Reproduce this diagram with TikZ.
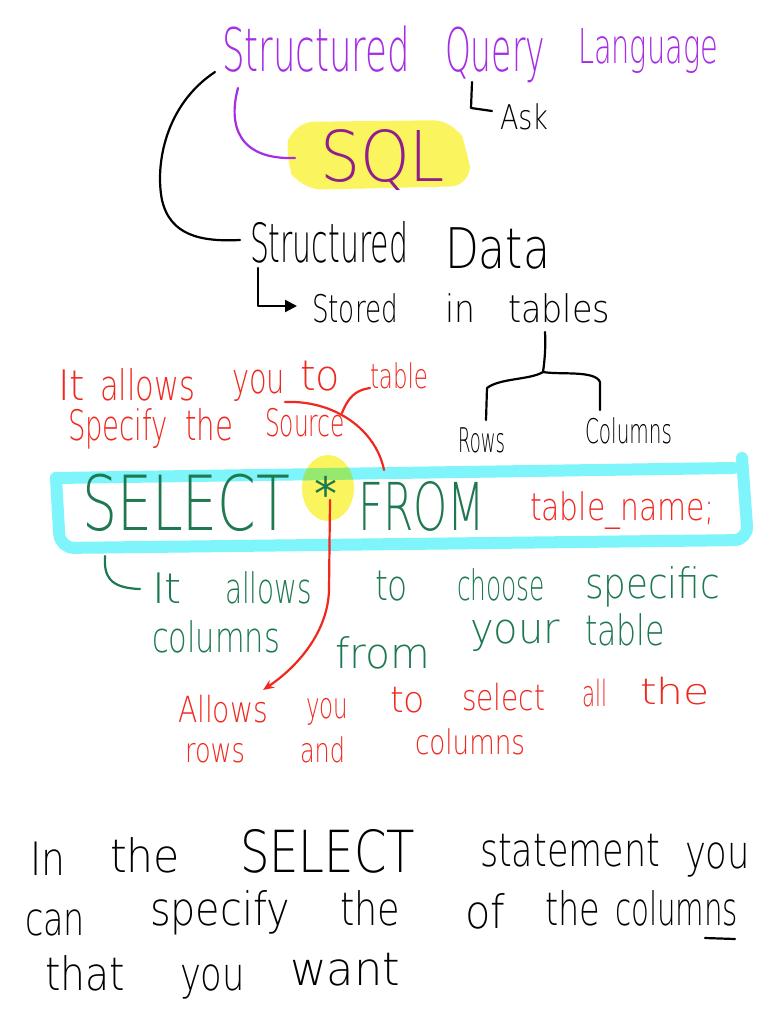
\documentclass[tikz,border=0pt]{standalone}
\usepackage{fontspec}
\usepackage{graphicx}
\setmainfont{DejaVu Sans ExtraLight}
\newfontfamily\regfont{DejaVu Sans}
\usetikzlibrary{arrows.meta}
\definecolor{purp}{RGB}{165,45,230}
\definecolor{sqlc}{RGB}{145,30,140}
\definecolor{yel}{RGB}{250,245,95}
\definecolor{cyanc}{RGB}{125,245,250}
\definecolor{lime}{RGB}{150,232,110}
\definecolor{grn}{RGB}{30,120,80}
\definecolor{redc}{RGB}{240,40,30}
\newcommand\hw[2]{\resizebox{#1pt}{\height}{#2}}
\newcommand\fs[1]{\fontsize{#1}{#1}\selectfont}
\begin{document}
\begin{tikzpicture}[x=1pt,y=-1pt,
  word/.style={anchor=base west,inner sep=0pt,outer sep=0pt},
  pen/.style={line width=2.2pt,line cap=round,line join=round},
  hl/.style={line width=12pt,line cap=round,line join=round}]
\useasboundingbox (0,0) rectangle (768,1024);
\fill[white] (0,0) rectangle (768,1024);

% highlights
\fill[yel,rounded corners=22pt] (292,122) -- (455,120) -- (468,150) -- (472,186) -- (300,190) -- (284,160) -- cycle;
\fill[yel] (328,488) ellipse [x radius=26, y radius=33];

% cyan box
\draw[cyanc,hl] (56,478) -- (733,468);
\draw[cyanc,hl,rounded corners=14pt] (742,458) -- (748,540) -- (60,548) -- (56,478);
\begin{scope}
\clip (328,488) ellipse [x radius=26, y radius=33];
\draw[lime,hl] (56,478) -- (733,468);
\end{scope}

% purple title
\node[word,text=purp,font=\fs{60}] (sq1) at (222,72) {\hw{188}{Structured}};
\node[word,text=purp,font=\fs{60}] (sq2) at (445,72) {\hw{100}{Query}};
\node[word,text=purp,font=\fs{48}] (sq3) at (578,64) {\hw{140}{Language}};
\node[word,text=sqlc,font=\fs{70}] (sql) at (320,182) {\hw{125}{SQL}};
\node[word,font=\fs{34}] (ask) at (500,130) {\hw{48}{Ask}};

% structured data
\node[word,font=\fs{54}] (sd1) at (250,262) {\hw{158}{Structured}};
\node[word,font=\fs{56}] (sd2) at (445,268) {\hw{105}{Data}};
\node[word,font=\fs{38}] (st1) at (312,322) {\hw{86}{Stored}};
\node[word,font=\fs{38}] (st2) at (445,322) {\hw{30}{in}};
\node[word,font=\fs{38}] (st3) at (508,322) {\hw{102}{tables}};
\node[word,font=\fs{34}] (rows) at (458,452) {\hw{47}{Rows}};
\node[word,font=\fs{34}] (cols) at (585,443) {\hw{87}{Columns}};

% connectors black / purple
\coordinate (b1) at (215,72);
\coordinate (b2) at (240,240);
\draw[pen] (b1) .. controls (165,105) and (155,165) .. (162,200) .. controls (170,235) and (200,242) .. (b2);
\coordinate (p1) at (238,88);
\coordinate (p2) at (295,158);
\draw[pen,purp] (p1) .. controls (228,125) and (238,160) .. (p2);
\coordinate (a1) at (472,82);
\coordinate (a2) at (492,111);
\draw[pen] (a1) -- (471,108) -- (a2);
\coordinate (l1) at (258,268);
\coordinate (l2) at (297,306);
\draw[pen,-{Triangle[length=12pt,width=12pt]}] (l1) -- (258,306) -- (l2);
\coordinate (br) at (543,372);
\draw[pen] (545,332) .. controls (546,350) and (544,365) .. (br);
\draw[pen] (br) .. controls (530,380) and (500,378) .. (487,388) -- (486,420);
\draw[pen] (br) .. controls (560,375) and (595,370) .. (600,382) -- (600,410);

% red upper
\node[word,text=redc,font=\fs{42}] (r1) at (58,400) {\hw{27}{It}};
\node[word,text=redc,font=\fs{42}] (r2) at (100,400) {\hw{95}{allows}};
\node[word,text=redc,font=\fs{42}] (r3) at (232,393) {\hw{53}{you}};
\node[word,text=redc,font=\fs{42}] (r4) at (300,390) {\hw{40}{to}};
\node[word,text=redc,font=\fs{34}] (r5) at (370,388) {\hw{58}{table}};
\node[word,text=redc,font=\fs{42}] (r6) at (68,440) {\hw{100}{Specify}};
\node[word,text=redc,font=\fs{42}] (r7) at (185,440) {\hw{48}{the}};
\node[word,text=redc,font=\fs{38}] (r8) at (265,436) {\hw{80}{Source}};
\draw[pen,redc] (342,413) .. controls (348,398) and (355,390) .. (r5.base west);
\coordinate (ra) at (285,402);
\coordinate (rb) at (384,470);
\draw[pen,redc] (ra) .. controls (335,400) and (376,430) .. (rb);

% select line
\node[word,text=grn,font=\fs{76}] (sel) at (82,530) {\hw{208}{SELECT}};
\node[anchor=base,inner sep=0pt,text=grn,font=\regfont\fs{46}] (star) at (326,510) {*};
\node[word,text=grn,font=\fs{66}] (from) at (358,530) {\hw{127}{FROM}};
\node[word,text=redc,font=\fs{38}] (tn) at (530,520) {\hw{185}{table\_name;}};

% red arrow from star
\coordinate (s1) at (330,500);
\coordinate (s2) at (263,690);
\draw[pen,redc,-{Stealth[length=11pt,width=9pt]}] (s1) -- (329,590) .. controls (328,630) and (300,665) .. (s2);

% green bracket and text
\coordinate (g1) at (105,556);
\coordinate (g2) at (140,589);
\draw[pen,grn] (g1) .. controls (104,575) and (108,588) .. (g2);
\node[word,text=grn,font=\fs{42}] (g11) at (152,603) {\hw{30}{It}};
\node[word,text=grn,font=\fs{42}] (g12) at (225,603) {\hw{87}{allows}};
\node[word,text=grn,font=\fs{42}] (g13) at (375,600) {\hw{33}{to}};
\node[word,text=grn,font=\fs{42}] (g14) at (457,600) {\hw{88}{choose}};
\node[word,text=grn,font=\fs{42}] (g15) at (585,598) {\hw{135}{specific}};
\node[word,text=grn,font=\fs{42}] (g21) at (152,652) {\hw{128}{columns}};
\node[word,text=grn,font=\fs{42}] (g22) at (335,668) {\hw{95}{from}};
\node[word,text=grn,font=\fs{42}] (g23) at (470,643) {\hw{90}{your}};
\node[word,text=grn,font=\fs{42}] (g24) at (585,645) {\hw{80}{table}};

% red lower
\node[word,text=redc,font=\fs{36}] (x1) at (178,722) {\hw{90}{Allows}};
\node[word,text=redc,font=\fs{36}] (x2) at (306,718) {\hw{42}{you}};
\node[word,text=redc,font=\fs{36}] (x3) at (390,712) {\hw{35}{to}};
\node[word,text=redc,font=\fs{36}] (x4) at (462,710) {\hw{83}{select}};
\node[word,text=redc,font=\fs{36}] (x5) at (582,706) {\hw{25}{all}};
\node[word,text=redc,font=\fs{36}] (x6) at (640,704) {\hw{70}{the}};
\node[word,text=redc,font=\fs{34}] (x7) at (185,762) {\hw{60}{rows}};
\node[word,text=redc,font=\fs{34}] (x8) at (300,762) {\hw{45}{and}};
\node[word,text=redc,font=\fs{34}] (x9) at (415,754) {\hw{110}{columns}};

% bottom black
\node[word,font=\fs{46}] (k1) at (30,875) {\hw{35}{In}};
\node[word,font=\fs{46}] (k2) at (110,872) {\hw{70}{the}};
\node[word,font=\fs{58}] (k3) at (240,872) {\hw{175}{SELECT}};
\node[word,font=\fs{46}] (k4) at (480,866) {\hw{180}{statement}};
\node[word,font=\fs{46}] (k5) at (685,868) {\hw{65}{you}};
\node[word,font=\fs{46}] (k6) at (25,935) {\hw{60}{can}};
\node[word,font=\fs{46}] (k7) at (150,925) {\hw{140}{specify}};
\node[word,font=\fs{46}] (k8) at (340,925) {\hw{60}{the}};
\node[word,font=\fs{46}] (k9) at (465,928) {\hw{40}{of}};
\node[word,font=\fs{46}] (k10) at (545,925) {\hw{55}{the}};
\node[word,font=\fs{46}] (k11) at (615,925) {\hw{123}{columns}};
\coordinate (u1) at (705,938);
\coordinate (u2) at (735,939);
\draw[pen] (u1) -- (u2);
\node[word,font=\fs{46}] (k12) at (45,990) {\hw{80}{that}};
\node[word,font=\fs{46}] (k13) at (180,990) {\hw{65}{you}};
\node[word,font=\fs{46}] (k14) at (290,985) {\hw{110}{want}};
\end{tikzpicture}
\end{document}
